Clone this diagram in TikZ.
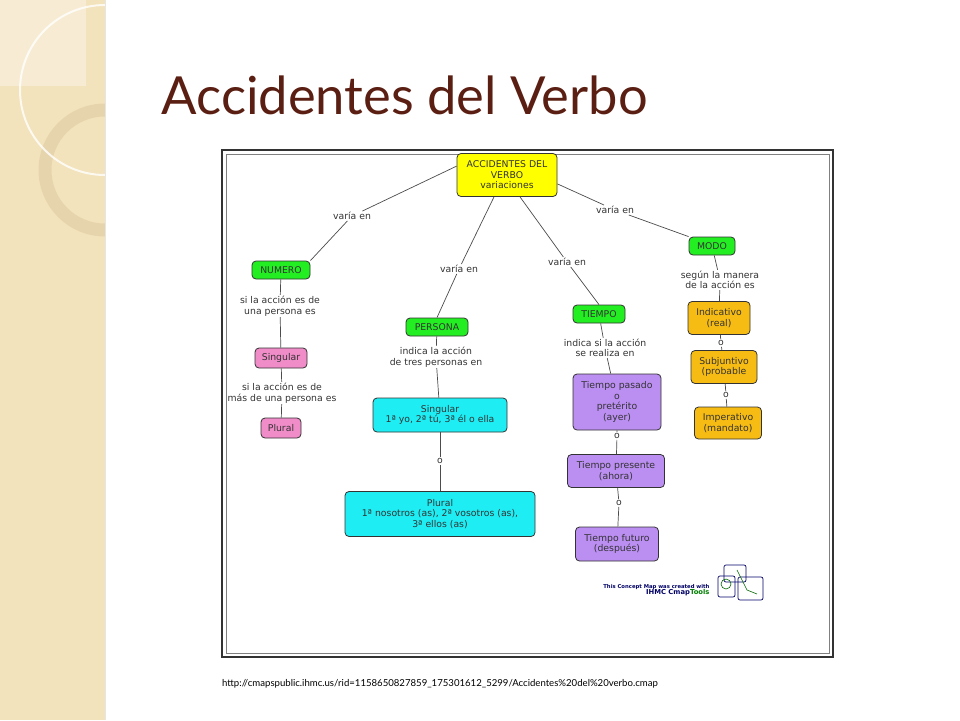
\documentclass[tikz,border=0pt]{standalone}
\usepackage{fontspec}
\setmainfont{DejaVu Sans}
\newfontfamily\titlefont{Lato}
\newfontfamily\urlfont{Lato}
\definecolor{beige}{HTML}{F3E3BC}
\definecolor{titlec}{HTML}{5A1F12}
\definecolor{cyel}{HTML}{FFFF00}
\definecolor{cgreen}{HTML}{22EE22}
\definecolor{cpink}{HTML}{F08CC8}
\definecolor{ccyan}{HTML}{1EEEF4}
\definecolor{cpurple}{HTML}{BB8EF2}
\definecolor{corange}{HTML}{F7BC14}
\definecolor{ctxt}{HTML}{333333}
\definecolor{ringc}{HTML}{E6D4AC}
\tikzset{
 cbox/.style={draw=black!80,rounded corners=4pt,line width=0.8pt,align=center,inner sep=2pt,font=\fontsize{9.3}{10.5}\selectfont,text=black!80,minimum height=18pt},
 lab/.style={align=center,font=\fontsize{9.3}{10.5}\selectfont,text=ctxt,fill=white,inner sep=1pt},
 conn/.style={draw=black!70,line width=0.7pt}
}
\begin{document}
\begin{tikzpicture}[x=1pt,y=-1pt]
\useasboundingbox (0,0) rectangle (960,720);
\fill[white] (0,0) rectangle (960,720);
% left decoration
\fill[beige] (0,0) rectangle (105,720);
\begin{scope}
\clip (0,0) rectangle (105,720);
\fill[white,opacity=0.35] (0,0) rectangle (86,86);
\draw[ringc,line width=13pt] (105,170) circle (60);
\draw[white,line width=2pt,opacity=0.8] (105,90) circle (85);
\end{scope}
\draw[black!10,line width=1pt] (105,0) -- (105,720);
% title
\node[font=\titlefont\fontsize{52.5}{58}\selectfont,text=titlec,anchor=west] (title) at (158,95) {Accidentes del Verbo};
% frame
\draw[black!80,line width=2.5pt] (222,150) rectangle (833,657);
\draw[black!50,line width=0.6pt] (226,154) rectangle (829,653);
% nodes
\node[cbox,fill=cyel,minimum width=100pt,minimum height=43pt] (root) at (507,175) {ACCIDENTES DEL\\VERBO\\variaciones};
\node[cbox,fill=cgreen,minimum width=58pt] (num) at (281,270) {NUMERO};
\node[cbox,fill=cgreen,minimum width=62pt] (per) at (437,327) {PERSONA};
\node[cbox,fill=cgreen,minimum width=52pt] (tie) at (599,314) {TIEMPO};
\node[cbox,fill=cgreen,minimum width=46pt] (modo) at (712,246) {MODO};
\node[cbox,fill=cpink,minimum width=52pt,minimum height=20pt] (sing) at (281,358) {Singular};
\node[cbox,fill=cpink,minimum width=40pt,minimum height=20pt] (plu) at (281,428) {Plural};
\node[cbox,fill=ccyan,minimum width=134pt,minimum height=34pt] (csing) at (440,415) {Singular\\1ª yo, 2ª tú, 3ª él o ella};
\node[cbox,fill=ccyan,minimum width=190pt,minimum height=45pt] (cplu) at (440,514) {Plural\\1ª nosotros (as), 2ª vosotros (as),\\3ª ellos (as)};
\node[cbox,fill=cpurple,minimum width=88pt,minimum height=56pt] (pas) at (617,402) {Tiempo pasado\\o\\pretérito\\(ayer)};
\node[cbox,fill=cpurple,minimum width=97pt,minimum height=33pt] (pre) at (616,471) {Tiempo presente\\(ahora)};
\node[cbox,fill=cpurple,minimum width=83pt,minimum height=34pt] (fut) at (617,544) {Tiempo futuro\\(después)};
\node[cbox,fill=corange,minimum width=62pt,minimum height=33pt] (ind) at (719,318) {Indicativo\\(real)};
\node[cbox,fill=corange,minimum width=66pt,minimum height=33pt] (sub) at (724,367) {Subjuntivo\\(probable};
\node[cbox,fill=corange,minimum width=67pt,minimum height=32pt] (imp) at (728,423) {Imperativo\\(mandato)};
% labels
\node[lab] (l1) at (352,216) {varía en};
\node[lab] (l2) at (459,269) {varía en};
\node[lab] (l3) at (567,262) {varía en};
\node[lab] (l4) at (615,210) {varía en};
\node[lab] (l5) at (280,306) {si la acción es de\\una persona es};
\node[lab] (l6) at (282,393) {si la acción es de\\más de una persona es};
\node[lab] (l7) at (436,357) {indica la acción\\de tres personas en};
\node[lab] (l8) at (440,461) {o};
\node[lab] (l9) at (605,348) {indica si la acción\\se realiza en};
\node[lab] (l10) at (617,436) {o};
\node[lab] (l11) at (619,503) {o};
\node[lab] (l12) at (720,280) {según la manera\\de la acción es};
\node[lab] (l13) at (721,343) {o};
\node[lab] (l14) at (726,395) {o};
% connectors
\draw[conn] (root.170) -- (l1) (l1) -- (num.north east);
\path (root.south) ++(-13,0) coordinate (r2);
\draw[conn] (r2) -- (l2) (l2) -- (per.north);
\path (root.south) ++(13,0) coordinate (r3);
\draw[conn] (r3) -- (l3) (l3) -- (tie.north);
\draw[conn] (root.-10) -- (l4) (l4) -- (modo.north west);
\draw[conn] (num) -- (l5) (l5) -- (sing);
\draw[conn] (sing) -- (l6) (l6) -- (plu);
\draw[conn] (per) -- (l7) (l7) -- (csing);
\draw[conn] (csing) -- (l8) (l8) -- (cplu);
\draw[conn] (tie) -- (l9) (l9) -- (pas);
\draw[conn] (pas) -- (l10) (l10) -- (pre);
\draw[conn] (pre) -- (l11) (l11) -- (fut);
\draw[conn] (modo) -- (l12) (l12) -- (ind);
\draw[conn] (ind) -- (l13) (l13) -- (sub);
\draw[conn] (sub) -- (l14) (l14) -- (imp);
% credit
\node[font=\bfseries\fontsize{5.3}{6.5}\selectfont,text=blue!40!black,align=right,anchor=east] (cred) at (713,590) {This Concept Map was created with\\{\fontsize{6.8}{7.5}\selectfont IHMC Cmap\textcolor{green!50!black}{Tools}}};
\draw[blue!40!black,line width=0.7pt,rounded corners=2pt] (724,565) rectangle (746,582);
\draw[blue!40!black,line width=0.7pt,rounded corners=2pt] (718,576) rectangle (735,597);
\draw[blue!40!black,line width=0.7pt,rounded corners=2pt] (738,577) rectangle (763,600);
\draw[green!40!black,line width=0.6pt] (726,584) circle (5) (737,570) -- (747,590) -- (757,594);
% url
\node[font=\urlfont\fontsize{9.6}{11}\selectfont,text=black] (url) at (440,684) {http://cmapspublic.ihmc.us/rid=1158650827859\_175301612\_5299/Accidentes\%20del\%20verbo.cmap};
\end{tikzpicture}
\end{document}
